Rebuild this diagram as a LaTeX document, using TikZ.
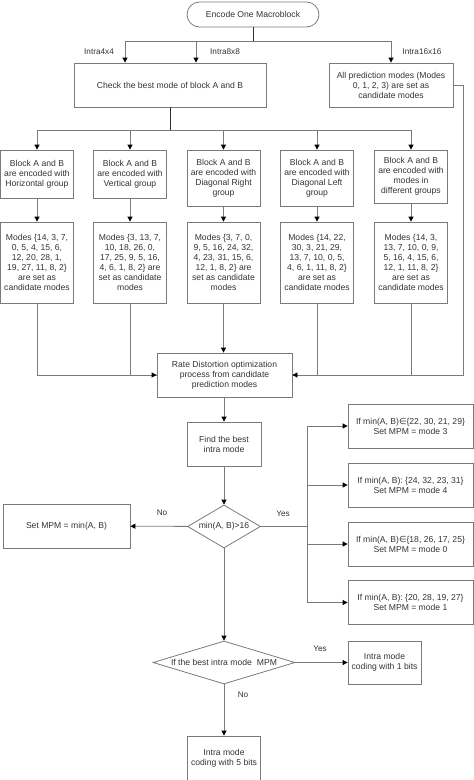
\documentclass[tikz,border=0pt]{standalone}
\usepackage{fontspec}
\setmainfont{Liberation Sans}
\newfontfamily\symfont{DejaVu Sans}
\usetikzlibrary{arrows.meta,shapes.geometric}
\definecolor{ln}{HTML}{7A7A7A}
\definecolor{dk}{HTML}{303030}
\definecolor{tx}{HTML}{333333}
\newcommand{\elem}{{\symfont\char"2208}}
\begin{document}
\begin{tikzpicture}[x=1pt,y=-1pt,
  box/.style={draw=ln, line width=0.8pt, text=tx, align=center, inner sep=1pt,
    font=\fontsize{8.6}{10}\selectfont},
  term/.style={box, rounded corners=12.5pt},
  diam/.style={box, shape=diamond, inner sep=0pt},
  lab/.style={text=tx, inner sep=0pt, font=\fontsize{8.2}{10}\selectfont},
  conn/.style={draw=ln, line width=0.8pt},
  dconn/.style={draw=dk, line width=0.8pt},
  arr/.style={-{Triangle[length=5pt,width=5pt,color=black]}}]
\useasboundingbox (0,0) rectangle (474,780);
\clip (0,0) rectangle (474,780);

% nodes
\node[term, minimum width=132pt, minimum height=25pt] (term) at (253,14.5) {Encode One Macroblock};
\node[box, minimum width=192pt, minimum height=44pt] (check) at (170,85) {Check the best mode of block A and B};
\node[box, minimum width=124pt, minimum height=44pt] (all) at (391,85) {All prediction modes (Modes\\0, 1, 2, 3) are set as\\candidate modes};

\node[box, minimum width=73pt, minimum height=48pt] (b1) at (37,174) {Block A and B\\are encoded with\\Horizontal group};
\node[box, minimum width=73pt, minimum height=48pt] (b2) at (130,174) {Block A and B\\are encoded with\\Vertical group};
\node[box, minimum width=73pt, minimum height=56pt] (b3) at (223.5,178) {Block A and B\\are encoded with\\Diagonal Right\\group};
\node[box, minimum width=73pt, minimum height=56pt] (b4) at (317,178) {Block A and B\\are encoded with\\Diagonal Left\\group};
\node[box, minimum width=73pt, minimum height=53pt] (b5) at (411,176.5) {Block A and B\\are encoded with\\modes in\\different groups};

\node[box, minimum width=73pt, minimum height=81pt] (m1) at (37,262.5) {Modes \{14, 3, 7,\\0, 5, 4, 15, 6,\\12, 20, 28, 1,\\19, 27, 11, 8, 2\}\\are set as\\candidate modes};
\node[box, minimum width=73pt, minimum height=81pt] (m2) at (130,262.5) {Modes \{3, 13, 7,\\10, 18, 26, 0,\\17, 25, 9, 5, 16,\\4, 6, 1, 8, 2\} are\\set as candidate\\modes};
\node[box, minimum width=73pt, minimum height=81pt] (m3) at (223.5,262.5) {Modes \{3, 7, 0,\\9, 5, 16, 24, 32,\\4, 23, 31, 15, 6,\\12, 1, 8, 2\} are\\set as candidate\\modes};
\node[box, minimum width=73pt, minimum height=81pt] (m4) at (317,262.5) {Modes \{14, 22,\\30, 3, 21, 29,\\13, 7, 10, 0, 5,\\4, 6, 1, 11, 8, 2\}\\are set as\\candidate modes};
\node[box, minimum width=73pt, minimum height=81pt] (m5) at (411,262.5) {Modes \{14, 3,\\13, 7, 10, 0, 9,\\5, 16, 4, 15, 6,\\12, 1, 11, 8, 2\}\\are set as\\candidate modes};

\node[box, minimum width=135pt, minimum height=44pt] (rd) at (224.5,375) {Rate Distortion optimization\\process from candidate\\prediction modes};
\node[box, minimum width=74pt, minimum height=44pt] (find) at (224,444) {Find the best\\intra mode};
\node[diam, aspect=1.7, minimum width=73pt, minimum height=43pt] (d1) at (224,526.5) {min(A, B)>16};
\node[box, minimum width=127pt, minimum height=44pt] (setmpm) at (66.5,526) {Set MPM = min(A, B)};

\node[box, minimum width=125pt, minimum height=44pt] (r1) at (410.5,426) {If min(A, B)\elem\{22, 30, 21, 29\}\\Set MPM = mode 3};
\node[box, minimum width=125pt, minimum height=44pt] (r2) at (410.5,485) {If min(A, B):\ \{24, 32, 23, 31\}\\Set MPM = mode 4};
\node[box, minimum width=125pt, minimum height=44pt] (r3) at (410.5,544) {If min(A, B)\elem\{18, 26, 17, 25\}\\Set MPM = mode 0};
\node[box, minimum width=125pt, minimum height=44pt] (r4) at (410.5,602.5) {If min(A, B):\ \{20, 28, 19, 27\}\\Set MPM = mode 1};

\node[diam, aspect=3.3, minimum width=142pt, minimum height=43pt] (d2) at (224,662.5) {If the best intra mode\hspace{5pt}MPM};
\node[box, minimum width=73pt, minimum height=43pt] (one) at (384.5,662.5) {Intra mode\\coding with 1 bits};
\node[box, minimum width=73pt, minimum height=45pt] (five) at (224,758.5) {Intra mode\\coding with 5 bits};

% labels
\node[lab] (l4) at (99,52) {Intra4x4};
\node[lab] (l8) at (225,52) {Intra8x8};
\node[lab] (l16) at (422,52) {Intra16x16};
\node[lab] (no1) at (162,513) {No};
\node[lab] (yes1) at (283,514) {Yes};
\node[lab] (yes2) at (320,649) {Yes};
\node[lab] (no2) at (243,695) {No};

% junctions
\coordinate (j1) at (253,41);
\coordinate (j2) at (170,130);
\coordinate (loop) at (463,85);
\coordinate (jy) at (307,526.5);

% connectors
\draw[dconn] (term) -- (j1);
\draw[conn,arr] (j1) -| ([xshift=-45pt]check.north);
\draw[conn,arr] (j1) -| ([xshift=26pt]check.north);
\draw[conn,arr] (j1) -| (all);

\draw[dconn] (check) -- (j2);
\draw[conn,arr] (j2) -| (b1);
\draw[conn,arr] (j2) -| (b2);
\draw[conn,arr] (j2) -| (b3);
\draw[conn,arr] (j2) -| (b4);
\draw[conn,arr] (j2) -| (b5);

\draw[conn,arr] (b1) -- (m1);
\draw[conn,arr] (b2) -- (m2);
\draw[conn,arr] (b3) -- (m3);
\draw[conn,arr] (b4) -- (m4);
\draw[conn,arr] (b5) -- (m5);

\draw[conn] (m2) |- (rd);
\draw[conn,arr] (m1) |- (rd);
\draw[conn,arr] (m3.south) -- (m3.south |- rd.north);
\draw[conn] (m4) |- (rd);
\draw[conn] (m5) |- (rd);
\draw[conn,arr] (all.east) -- (loop) |- (rd);

\draw[conn,arr] (rd.south -| find) -- (find);
\draw[conn,arr] (find) -- (d1);
\draw[conn,arr] (d1) -- (setmpm);
\draw[conn] (d1.east) -- (jy);
\draw[conn,arr] (jy) |- (r1);
\draw[conn,arr] (jy) |- (r2);
\draw[conn,arr] (jy) |- (r3);
\draw[conn,arr] (jy) |- (r4);
\draw[conn,arr] (d1) -- (d2);
\draw[conn,arr] (d2) -- (one);
\draw[conn,arr] (d2) -- (five);
\end{tikzpicture}
\end{document}
